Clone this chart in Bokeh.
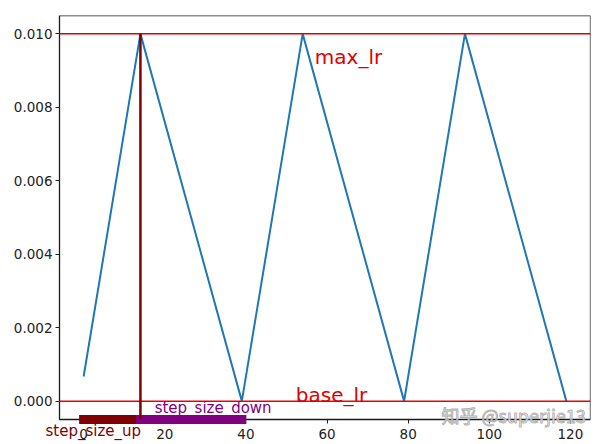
from bokeh.plotting import figure
from bokeh.models import Label, FixedTicker, PrintfTickFormatter, Range1d
from bokeh.embed import file_html
from bokeh.resources import INLINE

# ---- data ----
steps = [0, 14, 39, 54, 79, 94, 119]
lr = [0.00067, 0.01, 0.0, 0.01, 0.0, 0.01, 0.0]
max_lr = 0.01
base_lr = 0.0
peak_step = 14
step_up = [0, 14]
step_down = [14, 39]
bar_y = -0.0005
x_ticks = [0, 20, 40, 60, 80, 100, 120]
y_ticks = [0.0, 0.002, 0.004, 0.006, 0.008, 0.010]
x_lim = (-5.95, 124.95)
y_lim = (-0.0005, 0.0105)

FONT = "DejaVu Sans"
W, H = 600, 444
TOP, LEFT, RIGHT = 15, 59, 10
AXES_H = 404   # pixel height of the axes box
AXES_W = W - LEFT - RIGHT
# extend the data frame left of and below the axes box so that unclipped texts / marks show
extra_y = (H - TOP - AXES_H) * (y_lim[1] - y_lim[0]) / AXES_H
extra_x = LEFT * (x_lim[1] - x_lim[0]) / AXES_W

p = figure(width=W, height=H, output_backend="svg", toolbar_location=None,
           x_range=Range1d(x_lim[0] - extra_x, x_lim[1]),
           y_range=Range1d(y_lim[0] - extra_y, y_lim[1]),
           min_border_left=0, min_border_right=RIGHT, min_border_top=TOP, min_border_bottom=0)
p.grid.visible = False
p.outline_line_color = None
p.background_fill_color = "white"
p.border_fill_color = "white"

# axes box
box = p.quad(left=[x_lim[0]], right=[x_lim[1]], bottom=[y_lim[0]], top=[y_lim[1]],
             fill_color=None, line_color="#1a1a1a", line_width=1.3)
box.level = "underlay"

for ax in (p.xaxis[0], p.yaxis[0]):
    ax.axis_line_color = None
    ax.major_tick_line_color = "#222222"
    ax.major_tick_out = 4
    ax.major_tick_in = 0
    ax.minor_tick_line_color = None
    ax.major_label_text_font = FONT
    ax.major_label_text_font_size = "13.5px"
    ax.major_label_text_color = "#222222"
    ax.major_label_standoff = 3
    ax.level = "underlay"

p.xaxis.major_label_standoff = 5
p.xaxis.fixed_location = y_lim[0]
p.yaxis.fixed_location = x_lim[0]
p.xaxis.ticker = FixedTicker(ticks=x_ticks)
p.xaxis.formatter = PrintfTickFormatter(format="%d")
p.yaxis.ticker = FixedTicker(ticks=y_ticks)
p.yaxis.formatter = PrintfTickFormatter(format="%.3f")

# lr curve
p.line(steps, lr, line_color="#1f77b4", line_width=2)

# max / base lines across the axes box
p.line(list(x_lim), [max_lr, max_lr], line_color="#dd0000", line_width=1.5)
p.line(list(x_lim), [base_lr, base_lr], line_color="#ee0000", line_width=1.5)

# step bars
p.line(step_up, [bar_y, bar_y], line_color="#800000", line_width=9, line_cap="square")
p.line(step_down, [bar_y, bar_y], line_color="#800080", line_width=9, line_cap="square")

# vertical marker at peak
p.line([peak_step, peak_step], [bar_y, max_lr], line_color="#800000", line_width=2.5)

def mk(x, y, t, color, size):
    return Label(x=x, y=y, text=t, text_color=color, text_font=FONT,
                 text_font_size=size, text_baseline="alphabetic", text_align="left")

p.add_layout(mk(57, 0.00936, "max_lr", "#dd0000", "20px"))
p.add_layout(mk(52.3, 0.00016, "base_lr", "#dd0000", "20px"))
p.add_layout(mk(17.5, -0.00019, "step_size_down", "#800080", "15px"))
p.add_layout(mk(-9.4, -0.00081, "step_size_up", "#800000", "15px"))

p.add_layout(Label(x=88.2, y=-0.00038, text="知乎 @superjie13", text_color="white",
                   text_alpha=0.8, text_outline_color="#a0a0a0",
                   text_font="Noto Sans CJK SC", text_font_size="18px",
                   text_baseline="alphabetic", level="overlay"))

open("out.html", "w").write(file_html(p, INLINE))
